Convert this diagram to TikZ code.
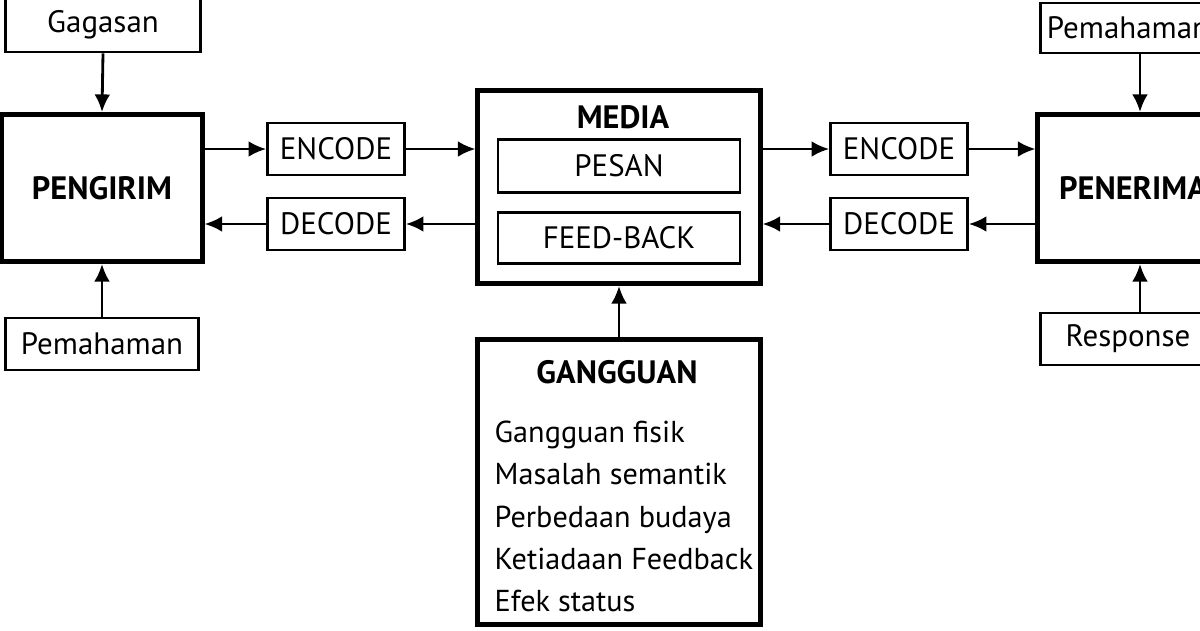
\documentclass[tikz,border=0pt]{standalone}
\usepackage{fontspec}
\setmainfont{PT Sans}
\usetikzlibrary{arrows.meta}
\tikzset{
 thin box/.style={draw,line width=0.75pt,inner sep=0pt,font=\fontsize{8.8}{10}\selectfont},
 thick box/.style={draw,line width=1.4pt,inner sep=0pt,font=\fontsize{9.2}{10}\selectfont\bfseries},
 arr/.style={line width=0.8pt,-{Latex[length=5pt,width=4.5pt]}},
 item/.style={anchor=base west,inner sep=0pt,font=\fontsize{8.6}{10}\selectfont}
}
\begin{document}
\begin{tikzpicture}[x=0.01cm,y=-0.01cm]
\useasboundingbox (0,0) rectangle (1200,630);
\clip (0,0) rectangle (1200,630);
\fill[white] (0,0) rectangle (1200,630);
% left side
\node[thin box,minimum width=1.95cm,minimum height=0.54cm] (gag) at (103,25) {Gagasan};
\node[thick box,minimum width=2.0cm,minimum height=1.47cm] (peng) at (102,188) {PENGIRIM};
\node[thin box,minimum width=1.93cm,minimum height=0.52cm] (pem1) at (102,344) {Pemahaman};
\node[thin box,minimum width=1.37cm,minimum height=0.52cm] (enc1) at (336,149) {ENCODE};
\node[thin box,minimum width=1.37cm,minimum height=0.52cm] (dec1) at (336,224) {DECODE};
% media
\node[thick box,minimum width=2.82cm,minimum height=1.93cm] (media) at (619,187) {};
\node[inner sep=0pt,font=\fontsize{9.2}{10}\selectfont\bfseries] (mtitle) at (623,117) {MEDIA};
\node[thin box,minimum width=2.42cm,minimum height=0.53cm] (pesan) at (619,166) {PESAN};
\node[thin box,minimum width=2.42cm,minimum height=0.51cm] (fb) at (619,238) {FEED-BACK};
% gangguan
\node[thick box,minimum width=2.82cm,minimum height=2.85cm] (gang) at (619,482) {};
\node[inner sep=0pt,font=\fontsize{9.2}{10}\selectfont\bfseries] (gtitle) at (617,372) {GANGGUAN};
\node[item] (g1) at (494,442) {Gangguan fisik};
\node[item] (g2) at (494,484) {Masalah semantik};
\node[item] (g3) at (494,527) {Perbedaan budaya};
\node[item] (g4) at (494,569) {Ketiadaan Feedback};
\node[item] (g5) at (494,611) {Efek status};
% right side
\node[thin box,minimum width=1.37cm,minimum height=0.52cm] (enc2) at (899,149) {ENCODE};
\node[thin box,minimum width=1.37cm,minimum height=0.52cm] (dec2) at (899,224) {DECODE};
\node[thick box,minimum width=1.9cm,minimum height=1.47cm] (pene) at (1133,188) {PENERIMA};
\node[thin box,minimum width=1.75cm,minimum height=0.5cm] (pem2) at (1128,28) {Pemahaman};
\node[thin box,minimum width=1.75cm,minimum height=0.52cm] (resp) at (1128,339) {Response};
% arrows
\draw[arr] (gag.south) -- (peng.north);
\draw[arr] (pem1.north) -- (peng.south);
\draw[arr] (peng.east|-enc1) -- (enc1.west);
\draw[arr] (enc1.east) -- (media.west|-enc1);
\draw[arr] (media.west|-dec1) -- (dec1.east);
\draw[arr] (dec1.west) -- (peng.east|-dec1);
\draw[arr] (gang.north) -- (media.south);
\draw[arr] (media.east|-enc2) -- (enc2.west);
\draw[arr] (enc2.east) -- (pene.west|-enc2);
\draw[arr] (pene.west|-dec2) -- (dec2.east);
\draw[arr] (dec2.west) -- (media.east|-dec2);
\draw[arr] (pem2.south-|1140,0) -- (pene.north-|1140,0);
\draw[arr] (resp.north-|1140,0) -- (pene.south-|1140,0);
\end{tikzpicture}
\end{document}
